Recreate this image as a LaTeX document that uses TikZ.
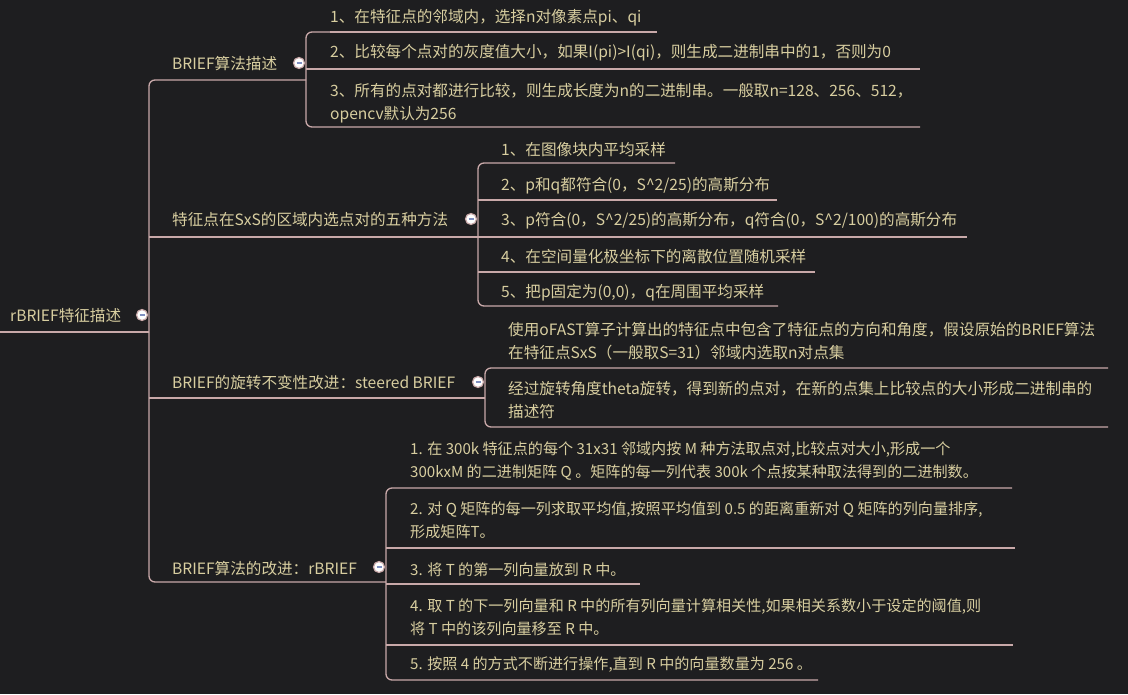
\documentclass[tikz,border=0pt]{standalone}
\usepackage{fontspec}
\setmainfont{Noto Sans CJK SC}
\definecolor{bg}{HTML}{1E1E20}
\definecolor{tx}{HTML}{D8CEA0}
\definecolor{ln}{HTML}{C9A9A9}
\definecolor{mn}{HTML}{7F8FC0}
\begin{document}
\begin{tikzpicture}[x=1pt,y=-1pt,
  t/.style={text=tx,anchor=west,inner sep=0pt,font=\fontsize{15.6}{23}\selectfont,align=left},
  ts/.style={t,font=\fontsize{15.1}{23}\selectfont},
  l/.style={draw=ln,line width=1.3pt,rounded corners=6pt},
  col/.style={circle,draw=ln,fill=white,line width=1.2pt,minimum size=11pt,inner sep=0pt,
    path picture={\draw[mn,line width=1.2pt] ([xshift=-2.5pt]path picture bounding box.center)--([xshift=2.5pt]path picture bounding box.center);}}]
\fill[bg] (0,0) rectangle (1128,694);
\useasboundingbox (0,0) rectangle (1128,694);
% connectors
\draw[l] (0,332) -- (149,332);
\draw[l] (330,32) -- (306,32) -- (306,127) -- (920,127);
\draw[l] (306,69) -- (920,69);
\draw[l] (149,332) -- (149,80) -- (306,80);
\draw[l] (149,332) -- (149,582) -- (386,582);
\draw[l] (149,237) -- (478,237);
\draw[l] (149,398) -- (485,398);
\draw[l] (330,32) -- (657,32);
% root
\node[t] (root) at (10,316) {rBRIEF特征描述};
% branch 1
\node[t] (b1) at (172,64) {BRIEF算法描述};
\node[t] (c11) at (330,18) {1、在特征点的邻域内，选择n对像素点pi、qi};
\node[t] (c12) at (330,53) {2、比较每个点对的灰度值大小，如果I(pi)>I(qi)，则生成二进制串中的1，否则为0};
\node[t] (c13) at (330,103) {3、所有的点对都进行比较，则生成长度为n的二进制串。一般取n=128、256、512，\\opencv默认为256};
% branch 2
\node[t] (b2) at (172,220) {特征点在SxS的区域内选点对的五种方法};
\draw[l] (675,163) -- (478,163) -- (478,306) -- (778,306);
\draw[l] (478,200) -- (777,200);
\draw[l] (478,237) -- (967,237);
\draw[l] (478,272) -- (815,272);
\node[t] (c21) at (501,150) {1、在图像块内平均采样};
\node[t] (c22) at (501,186) {2、p和q都符合(0，S\textasciicircum 2/25)的高斯分布};
\node[t] (c23) at (501,221) {3、p符合(0，S\textasciicircum 2/25)的高斯分布，q符合(0，S\textasciicircum 2/100)的高斯分布};
\node[t] (c24) at (501,257) {4、在空间量化极坐标下的离散位置随机采样};
\node[t] (c25) at (501,293) {5、把p固定为(0,0)，q在周围平均采样};
% branch 3
\node[t] (b3) at (172,383) {BRIEF的旋转不变性改进：steered BRIEF};
\draw[l] (1108,368) -- (485,368) -- (485,427) -- (1108,427);
\node[t] (c31) at (508,341) {使用oFAST算子计算出的特征点中包含了特征点的方向和角度，假设原始的BRIEF算法\\在特征点SxS（一般取S=31）邻域内选取n对点集};
\node[t] (c32) at (508,400) {经过旋转角度theta旋转，得到新的点对，在新的点集上比较点的大小形成二进制串的\\描述符};
% branch 4
\node[t] (b4) at (172,569) {BRIEF算法的改进：rBRIEF};
\draw[l] (1012,488) -- (386,488) -- (386,680) -- (818,680);
\draw[l] (386,548) -- (1015,548);
\draw[l] (386,584) -- (640,584);
\draw[l] (386,645) -- (1013,645);
\node[ts] (c41) at (410,461) {1. 在 300k 特征点的每个 31x31 邻域内按 M 种方法取点对,比较点对大小,形成一个\\300kxM 的二进制矩阵 Q 。矩阵的每一列代表 300k 个点按某种取法得到的二进制数。};
\node[ts] (c42) at (410,520) {2. 对 Q 矩阵的每一列求取平均值,按照平均值到 0.5 的距离重新对 Q 矩阵的列向量排序,\\形成矩阵T。};
\node[ts] (c43) at (410,570) {3. 将 T 的第一列向量放到 R 中。};
\node[ts] (c44) at (410,617) {4. 取 T 的下一列向量和 R 中的所有列向量计算相关性,如果相关系数小于设定的阈值,则\\将 T 中的该列向量移至 R 中。};
\node[ts] (c45) at (410,665) {5. 按照 4 的方式不断进行操作,直到 R 中的向量数量为 256 。};
% collapse markers
\node[col] (m0) at (142,315) {};
\node[col] (m1) at (299,63) {};
\node[col] (m2) at (471,219) {};
\node[col] (m3) at (478,382) {};
\node[col] (m4) at (379,567) {};
\end{tikzpicture}
\end{document}
